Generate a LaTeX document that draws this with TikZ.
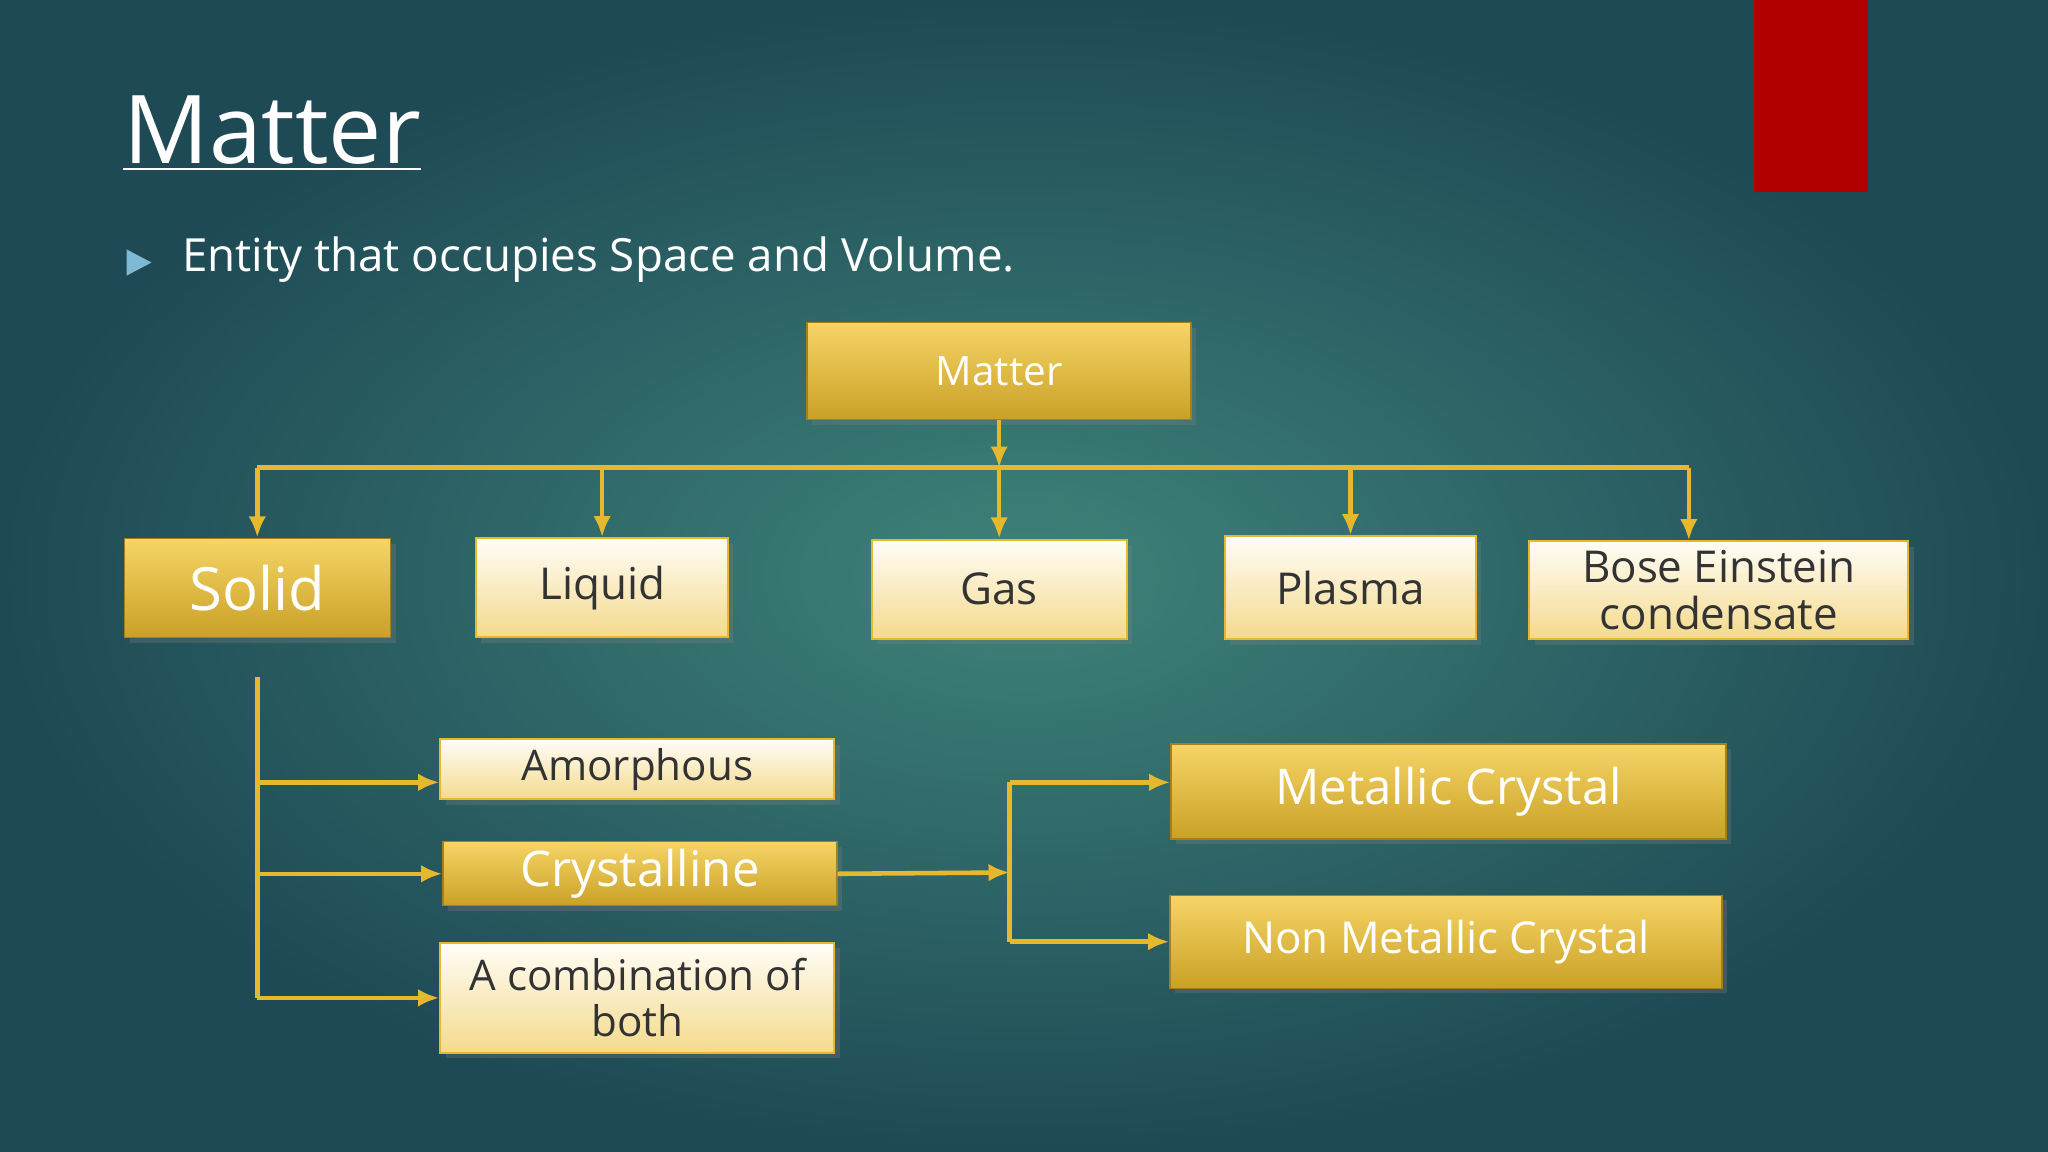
\documentclass[tikz,border=0pt]{standalone}
\usepackage{fontspec}
\setmainfont{Open Sans}
\usetikzlibrary{positioning,arrows.meta,shadows}
\definecolor{gold}{HTML}{E6B82E}
\definecolor{goldtop}{HTML}{F6D466}
\definecolor{goldbot}{HTML}{C9A126}
\definecolor{creamtop}{HTML}{FFFDF7}
\definecolor{creambot}{HTML}{F4DA8C}
\definecolor{tealin}{HTML}{3F837A}
\definecolor{tealout}{HTML}{1E4A55}
\tikzset{
  darkbox/.style={draw=goldbot!80!black,line width=0.4pt,top color=goldtop,bottom color=goldbot,
    text=white,align=center,inner sep=1pt,drop shadow={opacity=0.3,shadow xshift=1.5pt,shadow yshift=-1.5pt}},
  lightbox/.style={draw=gold,line width=0.6pt,top color=creamtop,bottom color=creambot,
    text=black!80,align=center,inner sep=1pt,drop shadow={opacity=0.3,shadow xshift=1.5pt,shadow yshift=-1.5pt}},
  link/.style={draw=gold,line width=1.3pt},
  arr/.style={link,-{Latex[length=6pt,width=5pt]}}
}
\begin{document}
\begin{tikzpicture}[x=0.01306cm,y=-0.01306cm]
  \useasboundingbox (0,0) rectangle (1568,882);
  \shade[inner color=tealin,outer color=tealout] (0,0) rectangle (1568,882);
  \fill[red!70!black] (1343,0) rectangle (1430,147);

  % title and bullet
  \node[anchor=west,text=white,font=\fontsize{27}{32}\selectfont,inner sep=0pt] (title) at (94,102) {\underline{Matter}};
  \fill[cyan!40!teal!60!white] (97,191) -- (116,201) -- (97,211) -- cycle;
  \node[anchor=west,text=white,font=\fontsize{13}{16}\selectfont,inner sep=0pt] (bullet) at (139,199) {Entity that occupies Space and Volume.};

  % top levels
  \node[darkbox,minimum width=3.84cm,minimum height=0.97cm,font=\fontsize{11.5}{14}\selectfont] (Matter) at (765,284) {Matter};
  \node[darkbox,minimum width=2.66cm,minimum height=0.99cm,font=\fontsize{17}{20}\selectfont] (Solid) at (197,450) {Solid};
  \node[lightbox,minimum width=2.52cm,minimum height=0.99cm,font=\fontsize{12.5}{15}\selectfont] (Liquid) at (461,450) {Liquid};
  \node[lightbox,minimum width=2.55cm,minimum height=0.99cm,font=\fontsize{12.5}{15}\selectfont] (Gas) at (765,451) {Gas};
  \node[lightbox,minimum width=2.51cm,minimum height=1.03cm,font=\fontsize{12.5}{15}\selectfont] (Plasma) at (1034,450) {Plasma};
  \node[lightbox,minimum width=3.79cm,minimum height=0.98cm,font=\fontsize{12.5}{13.5}\selectfont] (Bose) at (1316,452) {Bose Einstein\\condensate};

  % kinds of solid
  \node[lightbox,minimum width=3.94cm,minimum height=0.60cm,font=\fontsize{12}{14}\selectfont] (Amorphous) at (488,589) {Amorphous};
  \node[darkbox,minimum width=3.94cm,minimum height=0.64cm,font=\fontsize{14}{16}\selectfont] (Crystalline) at (490,669) {Crystalline};
  \node[lightbox,minimum width=3.94cm,minimum height=1.10cm,font=\fontsize{12}{13}\selectfont] (Both) at (488,764) {A combination of\\both};
  \node[darkbox,minimum width=5.55cm,minimum height=0.95cm,font=\fontsize{14}{16}\selectfont] (Metallic) at (1109,606) {Metallic Crystal};
  \node[darkbox,minimum width=5.52cm,minimum height=0.93cm,font=\fontsize{12.5}{15}\selectfont] (NonMetallic) at (1107,721) {Non Metallic Crystal};

  % connectors
  \coordinate (bus) at (765,358);
  \coordinate (busend) at (1293,358);
  \coordinate (stem) at (197,518);
  \coordinate (fork) at (773,668);
  \draw[arr] (Matter) -- (bus);
  \draw[link] (bus -| Solid) -- (busend);
  \foreach \n in {Solid,Liquid,Gas,Plasma}
    \draw[arr] (bus -| \n) -- (\n.north);
  \draw[arr] (busend) -- (busend |- Bose.north);
  \draw[link] (stem) -- (stem |- Both.west);
  \draw[arr] (stem |- 0,599) -- (Amorphous.west |- 0,599);
  \foreach \n in {Crystalline,Both}
    \draw[arr] (stem |- \n.west) -- (\n.west);
  \draw[arr] (Crystalline.east) -- (fork);
  \draw[link] (fork |- 0,599) -- (fork |- NonMetallic.west);
  \draw[arr] (fork |- 0,599) -- (Metallic.west |- 0,599);
  \draw[arr] (fork |- NonMetallic.west) -- (NonMetallic.west);
\end{tikzpicture}
\end{document}
